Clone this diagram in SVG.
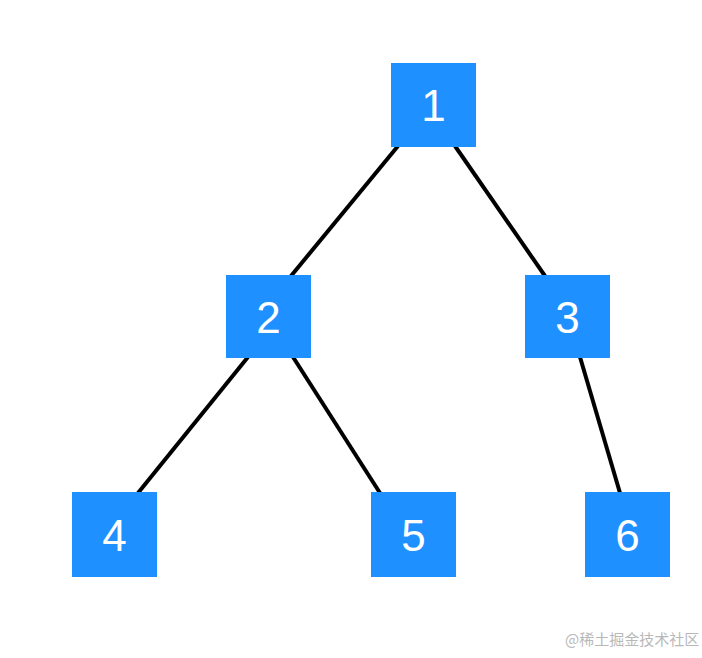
<svg xmlns="http://www.w3.org/2000/svg" width="702" height="658" viewBox="0 0 702 658">
<style>
.box{fill:#1E90FF}
.lbl{fill:#fff;font-family:"Liberation Sans",Arial,sans-serif;font-size:44px;text-anchor:middle}
.edge{stroke:#000;stroke-width:4;fill:none}
.wm{fill:#b8b8b8;font-family:"Noto Sans CJK SC",sans-serif;font-size:15px}
</style>
<rect width="702" height="658" fill="#fff"/>
<g id="connectors">
<line class="edge" x1="398" y1="146" x2="291" y2="276"/>
<line class="edge" x1="455" y1="146" x2="545" y2="276"/>
<line class="edge" x1="248" y1="357" x2="138" y2="493"/>
<line class="edge" x1="293" y1="357" x2="380" y2="493"/>
<line class="edge" x1="580" y1="357" x2="620" y2="493"/>
</g>
<g id="n1"><rect class="box" x="391" y="63" width="85" height="84"/><text class="lbl" x="433.5" y="121">1</text></g>
<g id="n2"><rect class="box" x="226" y="275" width="85" height="83"/><text class="lbl" x="268.5" y="333">2</text></g>
<g id="n3"><rect class="box" x="525" y="275" width="85" height="83"/><text class="lbl" x="567.5" y="333">3</text></g>
<g id="n4"><rect class="box" x="72" y="492" width="85" height="85"/><text class="lbl" x="114.5" y="551">4</text></g>
<g id="n5"><rect class="box" x="371" y="492" width="85" height="85"/><text class="lbl" x="413.5" y="551">5</text></g>
<g id="n6"><rect class="box" x="585" y="492" width="85" height="85"/><text class="lbl" x="627.5" y="551">6</text></g>
<text class="wm" x="565" y="645">@稀土掘金技术社区</text>
</svg>
